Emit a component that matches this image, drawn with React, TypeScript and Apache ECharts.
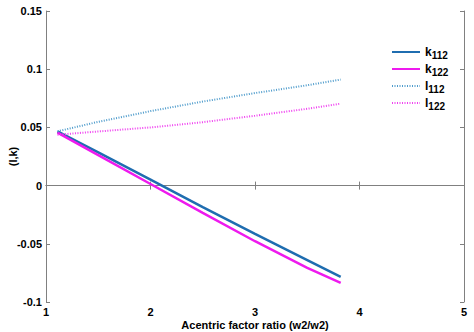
import React, { useEffect, useRef } from "react";
import * as echarts from "echarts";

const xValues = [1.11, 1.5, 2, 2.5, 3, 3.5, 3.82];
const k112 = [0.0466, 0.0285, 0.0052, -0.0185, -0.0415, -0.064, -0.0784];
const k122 = [0.0455, 0.0262, 0.0014, -0.0234, -0.0478, -0.0706, -0.0836];
const l112 = [0.0466, 0.0548, 0.064, 0.0722, 0.0795, 0.0862, 0.0911];
const l122 = [0.0437, 0.0465, 0.05, 0.0545, 0.06, 0.066, 0.0704];

const seriesNames = ["k112", "k122", "l112", "l122"];
const xTicks = { min: 1, max: 5, interval: 1 };
const yTicks = { min: -0.1, max: 0.15, interval: 0.05 };

const FONT = "Liberation Sans, Arial, sans-serif";
const AXIS_COLOR = "#808080";

export default function App() {
  const ref = useRef<HTMLDivElement>(null);
  useEffect(() => {
    if (!ref.current) return;
    const chart = echarts.init(ref.current, null, { renderer: "svg" });
    const pair = (ys: number[]) => xValues.map((x, i) => [x, ys[i]]);
    const mkAxisCommon = {
      axisLine: { show: true, lineStyle: { color: AXIS_COLOR, width: 1 } },
      axisTick: { show: true, inside: true, length: 4, lineStyle: { color: AXIS_COLOR } },
      splitLine: { show: false },
    };
    chart.setOption({
      animation: false,
      backgroundColor: "#ffffff",
      textStyle: { fontFamily: FONT },
      grid: { left: 46, right: 10, top: 11, bottom: 30, containLabel: false, outerBoundsMode: "none" },
      legend: {
        orient: "vertical",
        left: 386,
        top: 39,
        itemWidth: 28,
        itemHeight: 10,
        itemGap: 1,
        data: seriesNames,
        itemStyle: { opacity: 0 },
        formatter: (name: string) => `{m|${name[0]}}{s|${name.slice(1)}}`,
        textStyle: {
          rich: {
            m: { fontSize: 12, fontWeight: "bold", fontFamily: FONT, color: "#000", lineHeight: 12 },
            s: { fontSize: 10, fontWeight: "bold", fontFamily: FONT, color: "#000", lineHeight: 10, padding: [6, 0, 0, 0] },
          },
        },
      },
      xAxis: [
        {
          type: "value",
          ...xTicks,
          position: "bottom",
          name: "Acentric factor ratio (w2/w2)",
          nameLocation: "middle",
          nameGap: 17,
          nameMoveOverlap: false,
          nameTextStyle: { fontSize: 11, fontWeight: "bold", color: "#000", fontFamily: FONT },
          axisLabel: { fontSize: 11, fontWeight: "bold", color: "#000", margin: 4 },
          ...mkAxisCommon,
        },
        {
          type: "value",
          ...xTicks,
          position: "top",
          axisLabel: { show: false },
          ...mkAxisCommon,
        },
      ],
      yAxis: [
        {
          type: "value",
          ...yTicks,
          position: "left",
          name: "(l,k)",
          nameLocation: "middle",
          nameGap: 28,
          nameMoveOverlap: false,
          nameTextStyle: { fontSize: 11, fontWeight: "bold", color: "#000", fontFamily: FONT },
          axisLabel: {
            fontSize: 11,
            fontWeight: "bold",
            color: "#000",
            margin: 4,
            formatter: (v: number) => String(Math.round(v * 100) / 100),
          },
          ...mkAxisCommon,
        },
        {
          type: "value",
          ...yTicks,
          position: "right",
          axisLabel: { show: false },
          ...mkAxisCommon,
        },
      ],
      series: [
        {
          name: "k112",
          type: "line",
          data: pair(k112),
          showSymbol: false,
          symbol: "none",
          lineStyle: { color: "#1f6db0", width: 2.5 },
          itemStyle: { color: "#1f6db0" },
        },
        {
          name: "k122",
          type: "line",
          data: pair(k122),
          showSymbol: false,
          symbol: "none",
          lineStyle: { color: "#ee1aee", width: 2.5 },
          itemStyle: { color: "#ee1aee" },
        },
        {
          name: "l112",
          type: "line",
          data: pair(l112),
          showSymbol: false,
          symbol: "none",
          lineStyle: { color: "#4f9ccc", width: 2, type: [1, 1.5] },
          itemStyle: { color: "#4f9ccc" },
        },
        {
          name: "l122",
          type: "line",
          data: pair(l122),
          showSymbol: false,
          symbol: "none",
          lineStyle: { color: "#f040f0", width: 2, type: [1, 1.5] },
          itemStyle: { color: "#f040f0" },
        },
      ],
    });
    return () => chart.dispose();
  }, []);
  return <div ref={ref} style={{ width: 474, height: 332, position: "absolute", left: 0, top: 0 }} />;
}
